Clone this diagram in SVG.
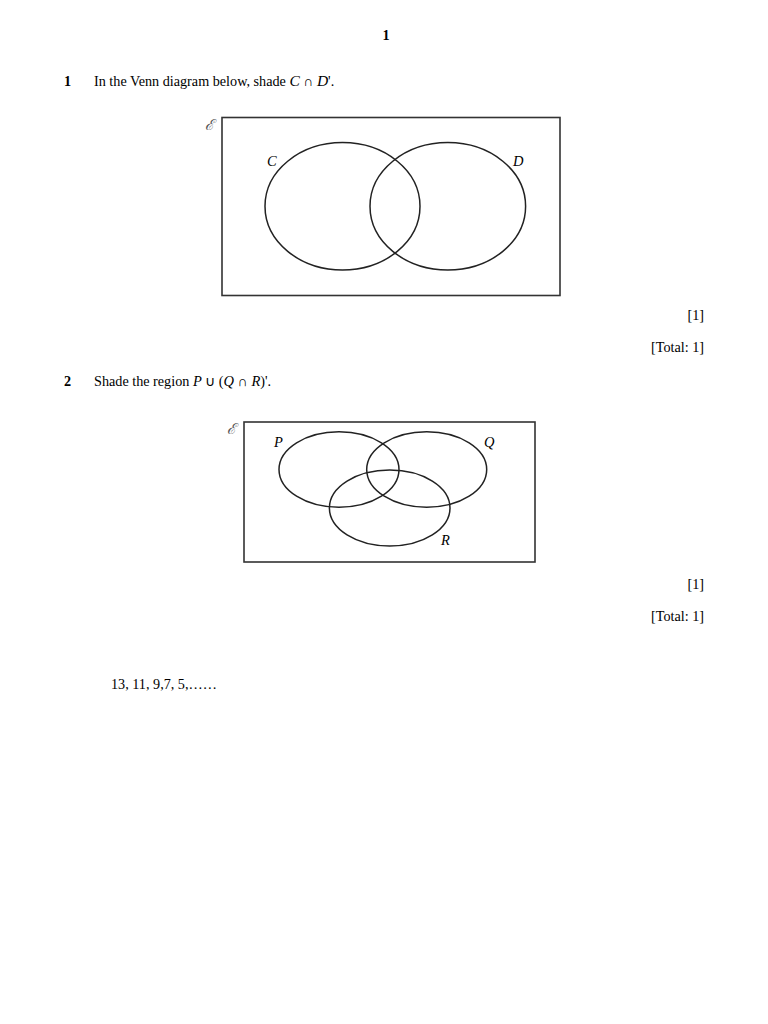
<svg xmlns="http://www.w3.org/2000/svg" width="768" height="1024" viewBox="0 0 768 1024">
<style>
text{font-family:"Liberation Serif","Times New Roman",serif;font-size:14.2px;fill:#000}
.b{font-weight:bold}
.i{font-style:italic}
.r{text-anchor:end}
.lab{font-style:italic;font-size:14.5px}
.u{font-family:"DejaVu Serif","Liberation Serif",serif;font-style:italic;font-size:15px;fill:#555}
.sh{fill:none;stroke:#222;stroke-width:1.5}
.box{fill:none;stroke:#333;stroke-width:1.6}
</style>
<rect width="768" height="1024" fill="#fff"/>
<text class="b" x="386" y="40" text-anchor="middle">1</text>
<g id="q1">
<text class="b" x="64" y="86">1</text>
<text x="94" y="86">In the Venn diagram below, shade <tspan class="i" font-size="15.5">C</tspan><tspan font-size="14"> ∩ </tspan><tspan class="i" font-size="15.5">D</tspan>'.</text>
</g>
<g id="venn1">
<rect class="box" x="222" y="117.5" width="338" height="178"/>
<text class="u" x="205" y="130">ℰ</text>
<g id="C"><ellipse class="sh" cx="342.5" cy="206.3" rx="77.5" ry="63.7"/><text class="lab" x="267" y="166">C</text></g>
<g id="D"><ellipse class="sh" cx="447.8" cy="206.3" rx="77.8" ry="63.7"/><text class="lab" x="513" y="166">D</text></g>
</g>
<text class="r" x="704" y="320">[1]</text>
<text class="r" x="704" y="352">[Total: 1]</text>
<g id="q2">
<text class="b" x="64" y="386">2</text>
<text x="94" y="386">Shade the region <tspan class="i" font-size="14.5">P</tspan> ∪ (<tspan class="i" font-size="14.5">Q</tspan> ∩ <tspan class="i" font-size="14.5">R</tspan>)'.</text>
</g>
<g id="venn2">
<rect class="box" x="244" y="422" width="291" height="140"/>
<text class="u" x="227" y="434">ℰ</text>
<g id="P"><ellipse class="sh" cx="339" cy="469.5" rx="60" ry="37.8"/><text class="lab" x="274" y="447">P</text></g>
<g id="Q"><ellipse class="sh" cx="426.7" cy="469.5" rx="60" ry="37.8"/><text class="lab" x="484" y="447">Q</text></g>
<g id="R"><ellipse class="sh" cx="389.7" cy="508" rx="60.3" ry="38"/><text class="lab" x="441" y="545">R</text></g>
</g>
<text class="r" x="704" y="589">[1]</text>
<text class="r" x="704" y="621">[Total: 1]</text>
<text x="111" y="689">13, 11, 9,7, 5,……</text>
</svg>
